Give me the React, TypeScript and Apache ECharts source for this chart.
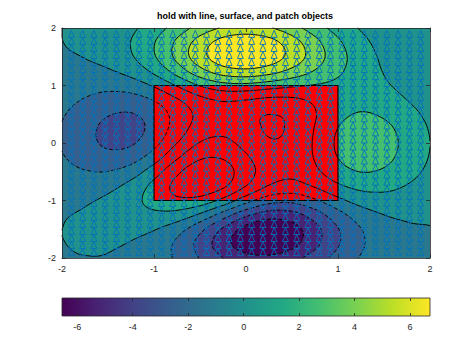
import React, { useEffect, useRef } from "react";
import * as echarts from "echarts";

// ---- data ----
const gridX = [-2, -1.75, -1.5, -1.25, -1, -0.75, -0.5, -0.25, 0, 0.25, 0.5, 0.75, 1, 1.25, 1.5, 1.75, 2];
const gridY = [-2, -1.75, -1.5, -1.25, -1, -0.75, -0.5, -0.25, 0, 0.25, 0.5, 0.75, 1, 1.25, 1.5, 1.75, 2];
// surface height, one row per gridY value (bottom to top), one column per gridX value
const zRows = [
  [0.047, 0.07, 0.045, -0.129, -0.593, -1.449, -2.64, -3.885, -4.761, -4.931, -4.348, -3.273, -2.103, -1.149, -0.53, -0.202, -0.062],
  [0.07, 0.127, 0.153, 0.023, -0.462, -1.478, -3.004, -4.696, -5.973, -6.326, -5.638, -4.241, -2.687, -1.42, -0.612, -0.205, -0.044],
  [0.079, 0.185, 0.327, 0.392, 0.148, -0.68, -2.187, -4.075, -5.68, -6.326, -5.762, -4.316, -2.635, -1.271, -0.441, -0.066, 0.043],
  [0.03, 0.167, 0.449, 0.836, 1.107, 0.883, -0.139, -1.845, -3.604, -4.602, -4.4, -3.223, -1.738, -0.556, 0.079, 0.266, 0.226],
  [-0.13, -0.043, 0.301, 0.984, 1.856, 2.454, 2.225, 0.997, -0.724, -2.015, -2.222, -1.425, -0.273, 0.581, 0.884, 0.769, 0.5],
  [-0.423, -0.51, -0.281, 0.495, 1.783, 3.086, 3.626, 2.942, 1.396, -0.005, -0.413, 0.204, 1.176, 1.786, 1.778, 1.346, 0.82],
  [-0.799, -1.158, -1.213, -0.596, 0.797, 2.488, 3.551, 3.305, 1.998, 0.7, 0.39, 1.139, 2.198, 2.758, 2.56, 1.875, 1.123],
  [-1.141, -1.775, -2.164, -1.836, -0.566, 1.228, 2.562, 2.625, 1.585, 0.526, 0.476, 1.496, 2.756, 3.372, 3.088, 2.245, 1.339],
  [-1.333, -2.142, -2.774, -2.712, -1.652, 0.064, 1.48, 1.753, 0.981, 0.19, 0.375, 1.573, 2.937, 3.582, 3.27, 2.372, 1.413],
  [-1.319, -2.157, -2.873, -2.979, -2.149, -0.647, 0.682, 1.057, 0.523, -0.028, 0.279, 1.468, 2.762, 3.362, 3.062, 2.218, 1.32],
  [-1.123, -1.849, -2.492, -2.638, -1.997, -0.76, 0.39, 0.796, 0.464, 0.09, 0.376, 1.344, 2.377, 2.834, 2.558, 1.844, 1.095],
  [-0.815, -1.33, -1.76, -1.78, -1.163, -0.046, 1.04, 1.552, 1.423, 1.121, 1.171, 1.649, 2.171, 2.318, 1.993, 1.402, 0.821],
  [-0.481, -0.74, -0.864, -0.599, 0.229, 1.507, 2.794, 3.585, 3.689, 3.34, 2.934, 2.662, 2.434, 2.084, 1.581, 1.036, 0.581],
  [-0.197, -0.225, -0.047, 0.547, 1.695, 3.288, 4.92, 6.065, 6.39, 5.937, 5.019, 3.967, 2.969, 2.089, 1.354, 0.791, 0.409],
  [-0.012, 0.11, 0.478, 1.274, 2.608, 4.374, 6.196, 7.541, 7.997, 7.481, 6.251, 4.722, 3.254, 2.054, 1.185, 0.622, 0.293],
  [0.07, 0.241, 0.646, 1.429, 2.673, 4.29, 5.96, 7.22, 7.672, 7.194, 5.986, 4.446, 2.962, 1.776, 0.961, 0.469, 0.206],
  [0.08, 0.228, 0.554, 1.158, 2.097, 3.307, 4.558, 5.51, 5.861, 5.5, 4.569, 3.369, 2.211, 1.294, 0.677, 0.317, 0.133],
];
// lower bounds of the filled bands; lines are drawn at all but the first
const fillLevels = [-6.55, -5.22, -3.9, -2.57, -1.24, 0.08, 1.41, 2.74, 4.06, 5.39, 6.72];
const viridis = ["#440154", "#482475", "#414487", "#355f8d", "#2a788e", "#21918c", "#22a884", "#44bf70", "#7ad151", "#bddf26", "#fde725"];
// marker grid positions (x and y)
const markerX = [-1.898, -1.776, -1.653, -1.531, -1.408, -1.286, -1.163, -1.041, -0.918, -0.796, -0.673, -0.551, -0.429, -0.306, -0.184, -0.061, 0.061, 0.184, 0.306, 0.429, 0.551, 0.673, 0.796, 0.918, 1.041, 1.163, 1.286, 1.408, 1.531, 1.653, 1.776, 1.898];
const markerY = [-1.898, -1.776, -1.653, -1.531, -1.408, -1.286, -1.163, -1.041, -0.918, -0.796, -0.673, -0.551, -0.429, -0.306, -0.184, -0.061, 0.061, 0.184, 0.306, 0.429, 0.551, 0.673, 0.796, 0.918, 1.041, 1.163, 1.286, 1.408, 1.531, 1.653, 1.776, 1.898];
const patchX = [-1, 1, 1, -1];
const patchY = [-1, -1, 1, 1];
const colorLimits = [-6.55, 6.72];
const colorbarTicks = [-6, -4, -2, 0, 2, 4, 6];
const titleText = "hold with line, surface, and patch objects";

// ---- rendering helpers (smooth resampling of the read grid for drawing) ----
const FINE_N = 161;
function cubic(p0: number, p1: number, p2: number, p3: number, t: number) {
  return 0.5 * (2 * p1 + (-p0 + p2) * t + (2 * p0 - 5 * p1 + 4 * p2 - p3) * t * t + (-p0 + 3 * p1 - 3 * p2 + p3) * t * t * t);
}
function pick(arr: number[], k: number) {
  const n = arr.length;
  if (k < 0) return 2 * arr[0] - arr[1];
  if (k > n - 1) return 2 * arr[n - 1] - arr[n - 2];
  return arr[k];
}
function interp1(arr: number[], u: number) {
  const n = arr.length;
  let i = Math.floor(u);
  if (i < 0) i = 0;
  if (i > n - 2) i = n - 2;
  const t = u - i;
  return cubic(pick(arr, i - 1), pick(arr, i), pick(arr, i + 1), pick(arr, i + 2), t);
}
function buildFine() {
  const x0 = gridX[0], y0 = gridY[0];
  const dx = gridX[1] - gridX[0], dy = gridY[1] - gridY[0];
  const hx = (gridX[gridX.length - 1] - x0) / (FINE_N - 1);
  const hy = (gridY[gridY.length - 1] - y0) / (FINE_N - 1);
  const rowsAtX = zRows.map((row) => {
    const out: number[] = [];
    for (let i = 0; i < FINE_N; i++) out.push(interp1(row, (i * hx) / dx));
    return out;
  });
  const cols: number[][] = [];
  for (let i = 0; i < FINE_N; i++) cols.push(rowsAtX.map((r) => r[i]));
  const F: number[][] = [];
  for (let j = 0; j < FINE_N; j++) {
    const v = (j * hy) / dy;
    const line: number[] = [];
    for (let i = 0; i < FINE_N; i++) line.push(interp1(cols[i], v));
    F.push(line);
  }
  return { F, x0, y0, hx, hy };
}

type Fine = ReturnType<typeof buildFine>;

function fineAt(fine: Fine, x: number, y: number) {
  const { F, x0, y0, hx, hy } = fine;
  const u = (x - x0) / hx, v = (y - y0) / hy;
  let i = Math.floor(u), j = Math.floor(v);
  if (i < 0) i = 0; if (i > FINE_N - 2) i = FINE_N - 2;
  if (j < 0) j = 0; if (j > FINE_N - 2) j = FINE_N - 2;
  const tx = u - i, ty = v - j;
  return F[j][i] * (1 - tx) * (1 - ty) + F[j][i + 1] * tx * (1 - ty) + F[j + 1][i] * (1 - tx) * ty + F[j + 1][i + 1] * tx * ty;
}

function bandOf(z: number) {
  let k = 0;
  for (let i = 1; i < fillLevels.length; i++) if (z >= fillLevels[i]) k = i;
  return k;
}

function contourLines(fine: Fine, level: number) {
  const { F, x0, y0, hx, hy } = fine;
  const pts = new Map<string, number[]>();
  const segs: string[][] = [];
  const ep = (kind: string, i: number, j: number) => {
    const key = kind + i + "_" + j;
    if (!pts.has(key)) {
      const a = F[j][i];
      const b = kind === "h" ? F[j][i + 1] : F[j + 1][i];
      const t = (level - a) / (b - a);
      const xa = x0 + i * hx, ya = y0 + j * hy;
      pts.set(key, kind === "h" ? [xa + hx * t, ya] : [xa, ya + hy * t]);
    }
    return key;
  };
  for (let j = 0; j < FINE_N - 1; j++) {
    for (let i = 0; i < FINE_N - 1; i++) {
      const v00 = F[j][i], v10 = F[j][i + 1], v11 = F[j + 1][i + 1], v01 = F[j + 1][i];
      const s00 = v00 >= level, s10 = v10 >= level, s11 = v11 >= level, s01 = v01 >= level;
      const bottom = s00 !== s10 ? ep("h", i, j) : null;
      const right = s10 !== s11 ? ep("v", i + 1, j) : null;
      const top = s01 !== s11 ? ep("h", i, j + 1) : null;
      const left = s00 !== s01 ? ep("v", i, j) : null;
      const list = [bottom, right, top, left].filter((e) => e !== null) as string[];
      if (list.length === 2) segs.push(list);
      else if (list.length === 4) {
        const c = (v00 + v10 + v11 + v01) / 4 >= level;
        if (c === s00) {
          segs.push([bottom!, right!]);
          segs.push([top!, left!]);
        } else {
          segs.push([bottom!, left!]);
          segs.push([right!, top!]);
        }
      }
    }
  }
  const adj = new Map<string, number[]>();
  segs.forEach((s, idx) => {
    s.forEach((k) => {
      if (!adj.has(k)) adj.set(k, []);
      adj.get(k)!.push(idx);
    });
  });
  const used = new Array(segs.length).fill(false);
  const lines: number[][][] = [];
  const extend = (chain: string[]) => {
    for (;;) {
      const last = chain[chain.length - 1];
      const cand = (adj.get(last) || []).find((s) => !used[s]);
      if (cand === undefined) break;
      used[cand] = true;
      const s = segs[cand];
      chain.push(s[0] === last ? s[1] : s[0]);
    }
  };
  for (let idx = 0; idx < segs.length; idx++) {
    if (used[idx]) continue;
    used[idx] = true;
    const fwd = [segs[idx][0], segs[idx][1]];
    extend(fwd);
    const back = [segs[idx][0]];
    extend(back);
    const chain = back.slice(1).reverse().concat(fwd);
    lines.push(chain.map((k) => pts.get(k)!));
  }
  return lines;
}

const FONT = '"Liberation Sans", Arial, Helvetica, sans-serif';
const AXIS_COLOR = "#262626";

export default function App() {
  const ref = useRef<HTMLDivElement>(null);
  useEffect(() => {
    if (!ref.current) return;
    const chart = echarts.init(ref.current, null, { renderer: "svg" });
    const fine = buildFine();
    const lineLevels = fillLevels.slice(1);
    const contours = lineLevels.map((lv) => ({ level: lv, lines: contourLines(fine, lv) }));
    const xMin = gridX[0], xMax = gridX[gridX.length - 1];
    const yMin = gridY[0], yMax = gridY[gridY.length - 1];

    const markerData: number[][] = [];
    markerY.forEach((y) => markerX.forEach((x) => markerData.push([x, y])));

    const mainAxisCommon = {
      type: "value" as const,
      min: -2,
      max: 2,
      interval: 1,
      z: 10,
      splitLine: { show: false },
      axisLine: { show: true, onZero: false, lineStyle: { color: AXIS_COLOR, width: 0.8 } },
      axisTick: { show: true, inside: true, length: 4, lineStyle: { color: AXIS_COLOR, width: 0.8 } },
    };
    const labelStyle = { fontSize: 9, color: AXIS_COLOR, fontFamily: FONT };

    const option: any = {
      animation: false,
      backgroundColor: "#ffffff",
      grid: [
        { left: 62, top: 28, width: 368, height: 230 },
        { left: 62, top: 298, width: 368, height: 18 },
      ],
      xAxis: [
        { ...mainAxisCommon, gridIndex: 0, position: "bottom", axisLabel: { ...labelStyle, margin: 6 } },
        { ...mainAxisCommon, gridIndex: 0, position: "top", axisLabel: { show: false } },
        {
          type: "value", gridIndex: 1, position: "bottom", min: colorLimits[0], max: colorLimits[1], z: 10,
          splitLine: { show: false },
          axisLine: { show: false, onZero: false },
          axisTick: { show: true, inside: true, length: 3, customValues: colorbarTicks, lineStyle: { color: AXIS_COLOR, width: 0.8 } },
          axisLabel: { ...labelStyle, margin: 6, customValues: colorbarTicks },
        },
        {
          type: "value", gridIndex: 1, position: "top", min: colorLimits[0], max: colorLimits[1], z: 10,
          splitLine: { show: false },
          axisLine: { show: false, onZero: false },
          axisTick: { show: true, inside: true, length: 3, customValues: colorbarTicks, lineStyle: { color: AXIS_COLOR, width: 0.8 } },
          axisLabel: { show: false, customValues: colorbarTicks },
        },
      ],
      yAxis: [
        { ...mainAxisCommon, gridIndex: 0, position: "left", axisLabel: { ...labelStyle, margin: 6 } },
        { ...mainAxisCommon, gridIndex: 0, position: "right", axisLabel: { show: false } },
        { type: "value", gridIndex: 1, min: 0, max: 1, show: false },
      ],
      graphic: [
        {
          type: "text",
          x: 245,
          y: 16,
          z: 100,
          style: {
            text: titleText,
            font: `bold 9px ${FONT}`,
            fill: "#000000",
            textAlign: "center",
            textVerticalAlign: "middle",
            align: "center",
            verticalAlign: "middle",
          },
        },
      ],
      series: [
        {
          type: "custom",
          name: "fill",
          xAxisIndex: 0,
          yAxisIndex: 0,
          z: 1,
          silent: true,
          data: [[0, 0]],
          renderItem: (_params: any, api: any) => {
            const tl = api.coord([xMin, yMax]);
            const br = api.coord([xMax, yMin]);
            const nRows = Math.max(1, Math.round(br[1] - tl[1]));
            const nCols = Math.max(1, Math.round(br[0] - tl[0]));
            const children: any[] = [];
            const dxD = (xMax - xMin) / nCols;
            const dyD = (yMax - yMin) / nRows;
            for (let r = 0; r < nRows; r++) {
              const yD = yMax - (r + 0.5) * dyD;
              const yTop = yMax - r * dyD;
              const yBot = yMax - (r + 1) * dyD;
              let prev = -1;
              let start = 0;
              const push = (c0: number, c1: number, band: number) => {
                const a = api.coord([xMin + c0 * dxD, yTop]);
                const b = api.coord([xMin + c1 * dxD, yBot]);
                const extraW = c1 < nCols ? 0.6 : 0;
                const extraH = r < nRows - 1 ? 0.6 : 0;
                children.push({
                  type: "rect",
                  shape: { x: a[0], y: a[1], width: b[0] - a[0] + extraW, height: b[1] - a[1] + extraH },
                  style: { fill: viridis[band] },
                });
              };
              for (let c = 0; c < nCols; c++) {
                const xD = xMin + (c + 0.5) * dxD;
                const b = bandOf(fineAt(fine, xD, yD));
                if (b !== prev) {
                  if (prev >= 0) push(start, c, prev);
                  prev = b;
                  start = c;
                }
              }
              push(start, nCols, prev);
            }
            return { type: "group", children };
          },
        },
        {
          type: "custom",
          name: "patch",
          xAxisIndex: 0,
          yAxisIndex: 0,
          z: 2,
          silent: true,
          data: [[0, 0]],
          renderItem: (_params: any, api: any) => {
            const points = patchX.map((x, i) => api.coord([x, patchY[i]]));
            return {
              type: "polygon",
              shape: { points },
              style: { fill: "#ff0000", stroke: "#000000", lineWidth: 1.2 },
            };
          },
        },
        {
          type: "custom",
          name: "contour lines",
          xAxisIndex: 0,
          yAxisIndex: 0,
          z: 3,
          silent: true,
          data: [[0, 0]],
          renderItem: (_params: any, api: any) => {
            const children: any[] = [];
            contours.forEach((c) => {
              c.lines.forEach((ln) => {
                children.push({
                  type: "polyline",
                  shape: { points: ln.map((p) => api.coord(p)) },
                  style: {
                    stroke: "#000000",
                    lineWidth: 1,
                    fill: null,
                    lineDash: c.level < 0 ? [4, 2] : null,
                  },
                });
              });
            });
            return { type: "group", children };
          },
        },
        {
          type: "scatter",
          name: "markers",
          xAxisIndex: 0,
          yAxisIndex: 0,
          z: 4,
          silent: true,
          symbol: "triangle",
          symbolSize: [6, 7],
          itemStyle: { color: "rgba(0,0,0,0)", borderColor: "#0072bd", borderWidth: 0.9, opacity: 1 },
          data: markerData,
        },
        {
          type: "custom",
          name: "colorbar",
          xAxisIndex: 2,
          yAxisIndex: 2,
          z: 2,
          silent: true,
          data: [[0, 0]],
          renderItem: (_params: any, api: any) => {
            const a = api.coord([colorLimits[0], 1]);
            const b = api.coord([colorLimits[1], 0]);
            return {
              type: "rect",
              shape: { x: a[0], y: a[1], width: b[0] - a[0], height: b[1] - a[1] },
              style: {
                fill: new echarts.graphic.LinearGradient(
                  0, 0, 1, 0,
                  viridis.map((c, i) => ({ offset: i / (viridis.length - 1), color: c }))
                ),
                stroke: AXIS_COLOR,
                lineWidth: 0.8,
              },
            };
          },
        },
      ],
    };
    chart.setOption(option);
    return () => chart.dispose();
  }, []);
  return (
    <div
      ref={ref}
      style={{ position: "absolute", left: 0, top: 0, width: 474, height: 355, background: "#ffffff" }}
    />
  );
}
